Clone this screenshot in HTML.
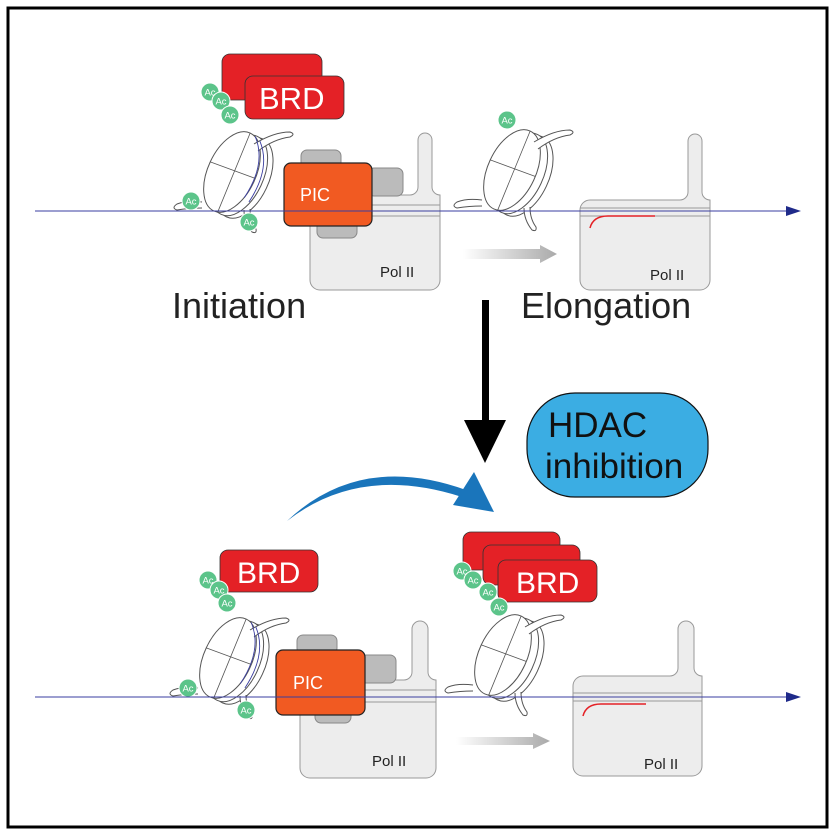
<!DOCTYPE html>
<html><head><meta charset="utf-8"><style>
html,body{margin:0;padding:0;background:#fff}
svg{display:block}
text{font-family:"Liberation Sans",Arial,sans-serif}
</style></head><body>
<svg width="835" height="835" viewBox="0 0 835 835" xmlns="http://www.w3.org/2000/svg">
<defs>
<linearGradient id="ga" x1="0" x2="1" y1="0" y2="0">
<stop offset="0" stop-color="#fff"/><stop offset="1" stop-color="#aaa"/></linearGradient>
<g id="nuc">
<path d="M-30,30 q-15,-2 -25,2 q-6,4 0,6 q12,-2 25,-2" fill="#fff" stroke="#555" stroke-width="1"/>
<g transform="rotate(25)">
<ellipse cx="14" cy="0" rx="24" ry="43" fill="#fff" stroke="#555" stroke-width="1"/>
<ellipse cx="8" cy="0" rx="24" ry="43" fill="#fff" stroke="#555" stroke-width="1"/>
<ellipse cx="0" cy="0" rx="24" ry="43" fill="#fff" stroke="#555" stroke-width="1"/>
<path d="M-24,0 L24,-4 M0,-43 L4,43" stroke="#555" stroke-width="0.8"/>
</g>
<path d="M22,-28 q20,-12 36,-12 q6,2 0,5 q-16,2 -32,14" fill="#fff" stroke="#555" stroke-width="1"/>
<path d="M12,38 q0,12 8,22 q5,2 4,-3 q-6,-8 -6,-20" fill="#fff" stroke="#555" stroke-width="1"/>
</g>
<g id="nucb">
<use href="#nuc"/>
<g transform="rotate(25)" fill="none" stroke="#3a3ea0" stroke-width="0.9">
<path d="M6,-42 q22,20 16,60 M12,-40 q22,20 16,60"/>
</g>
</g>
<g id="ac"><circle r="9" fill="#5cc48a" stroke="#fff" stroke-width="1"/><text y="3.5" text-anchor="middle" font-size="9.5" fill="#fff">Ac</text></g>
</defs>
<rect x="8" y="8" width="819" height="819" fill="#fff" stroke="#000" stroke-width="3"/>

<!-- TOP PANEL -->
<path d="M318,195 H410 a8,8 0 0 0 8,-8 V140 a7,7 0 0 1 14,0 V187 a8,8 0 0 0 8,8 V280 a10,10 0 0 1 -10,10 H320 a10,10 0 0 1 -10,-10 V203 a8,8 0 0 1 8,-8z" fill="#ededed" stroke="#999" stroke-width="1"/>
<path d="M310,205 H440 M310,216 H440" stroke="#999" stroke-width="1"/>
<text x="380" y="277" font-size="15" fill="#222">Pol II</text>
<use href="#nucb" x="232" y="172"/>
<rect x="301" y="150" width="40" height="20" rx="6" fill="#bbb" stroke="#888"/>
<rect x="368" y="168" width="35" height="28" rx="6" fill="#bbb" stroke="#888"/>
<rect x="317" y="220" width="40" height="18" rx="6" fill="#bbb" stroke="#888"/>
<rect x="284" y="163" width="88" height="63" rx="7" fill="#f15a22" stroke="#222" stroke-width="1.2"/>
<text x="300" y="201" font-size="18" fill="#fff">PIC</text>
<rect x="222" y="54" width="100" height="46" rx="8" fill="#e42126" stroke="#333" stroke-width="0.8"/>
<rect x="245" y="76" width="99" height="43" rx="8" fill="#e42126" stroke="#333" stroke-width="0.8"/>
<text x="259" y="109" font-size="31" fill="#fff">BRD</text>
<use href="#ac" x="210" y="92"/><use href="#ac" x="221" y="101"/><use href="#ac" x="230" y="115"/>
<use href="#ac" x="191" y="201"/><use href="#ac" x="249" y="222"/>
<path d="M590,200 H680 a8,8 0 0 0 8,-8 V141 a7,7 0 0 1 14,0 V192 a8,8 0 0 0 8,8 V280 a10,10 0 0 1 -10,10 H590 a10,10 0 0 1 -10,-10 V210 a10,10 0 0 1 10,-10z" fill="#ededed" stroke="#999" stroke-width="1"/>
<path d="M580,208 H710 M580,216 H710" stroke="#999" stroke-width="1"/>
<path d="M590,228 q3,-12 18,-12 H655" fill="none" stroke="#e42126" stroke-width="1.5"/>
<text x="650" y="280" font-size="15" fill="#222">Pol II</text>
<use href="#nuc" x="512" y="170"/>
<use href="#ac" x="507" y="120"/>
<line x1="35" y1="211" x2="790" y2="211" stroke="#3a3ea0" stroke-width="1"/>
<path d="M786,206 L801,211 L786,216z" fill="#1f2a8a"/>
<path d="M463,249 H540 V245 L557,254 L540,263 V259 H463z" fill="url(#ga)"/>
<text x="172" y="318" font-size="36" fill="#222">Initiation</text>
<text x="521" y="318" font-size="36" fill="#222">Elongation</text>

<rect x="482" y="300" width="7" height="122" fill="#000"/>
<path d="M464,420 L506,420 L485,463z" fill="#000"/>
<rect x="527" y="393" width="181" height="104" rx="48" fill="#3badE3" stroke="#111" stroke-width="1.2"/>
<text x="548" y="437" font-size="35" fill="#111">HDAC</text>
<text x="545" y="478" font-size="35" fill="#111">inhibition</text>
<path d="M287,521 Q360,452 466,490 L462,497 Q360,464 287,521z" fill="#1a75bb"/>
<path d="M453,505 L474,472 L494,512z" fill="#1a75bb"/>

<!-- BOTTOM PANEL -->
<path d="M308,680 H404 a8,8 0 0 0 8,-8 V629 a8,8 0 0 1 16,0 V672 a8,8 0 0 0 8,8 V768 a10,10 0 0 1 -10,10 H310 a10,10 0 0 1 -10,-10 V688 a8,8 0 0 1 8,-8z" fill="#ededed" stroke="#999" stroke-width="1"/>
<path d="M300,690 H436 M300,702 H436" stroke="#999" stroke-width="1"/>
<text x="372" y="766" font-size="15" fill="#222">Pol II</text>
<use href="#nucb" x="228" y="658"/>
<rect x="297" y="635" width="40" height="19" rx="6" fill="#bbb" stroke="#888"/>
<rect x="360" y="655" width="36" height="28" rx="6" fill="#bbb" stroke="#888"/>
<rect x="315" y="706" width="36" height="17" rx="6" fill="#bbb" stroke="#888"/>
<rect x="276" y="650" width="89" height="65" rx="7" fill="#f15a22" stroke="#222" stroke-width="1.2"/>
<text x="293" y="689" font-size="18" fill="#fff">PIC</text>
<rect x="220" y="550" width="98" height="42" rx="8" fill="#e42126" stroke="#333" stroke-width="0.8"/>
<text x="237" y="583" font-size="30" fill="#fff">BRD</text>
<use href="#ac" x="208" y="580"/><use href="#ac" x="219" y="590"/><use href="#ac" x="227" y="603"/>
<use href="#ac" x="188" y="688"/><use href="#ac" x="246" y="710"/>
<path d="M583,676 H670 a8,8 0 0 0 8,-8 V629 a8,8 0 0 1 16,0 V668 a8,8 0 0 0 8,8 V766 a10,10 0 0 1 -10,10 H583 a10,10 0 0 1 -10,-10 V686 a10,10 0 0 1 10,-10z" fill="#ededed" stroke="#999" stroke-width="1"/>
<path d="M573,693 H702 M573,701 H702" stroke="#999" stroke-width="1"/>
<path d="M583,716 q3,-12 18,-12 H646" fill="none" stroke="#e42126" stroke-width="1.5"/>
<text x="644" y="769" font-size="15" fill="#222">Pol II</text>
<use href="#nuc" x="503" y="655"/>
<rect x="463" y="532" width="97" height="38" rx="8" fill="#e42126" stroke="#333" stroke-width="0.8"/>
<rect x="483" y="545" width="97" height="40" rx="8" fill="#e42126" stroke="#333" stroke-width="0.8"/>
<rect x="498" y="560" width="99" height="42" rx="8" fill="#e42126" stroke="#333" stroke-width="0.8"/>
<text x="516" y="593" font-size="30" fill="#fff">BRD</text>
<use href="#ac" x="462" y="571"/><use href="#ac" x="473" y="580"/><use href="#ac" x="488" y="592"/><use href="#ac" x="499" y="607"/>
<line x1="35" y1="697" x2="790" y2="697" stroke="#3a3ea0" stroke-width="1"/>
<path d="M786,692 L801,697 L786,702z" fill="#1f2a8a"/>
<path d="M456,737 H533 V733 L550,741 L533,749 V745 H456z" fill="url(#ga)"/>
</svg>
</body></html>
